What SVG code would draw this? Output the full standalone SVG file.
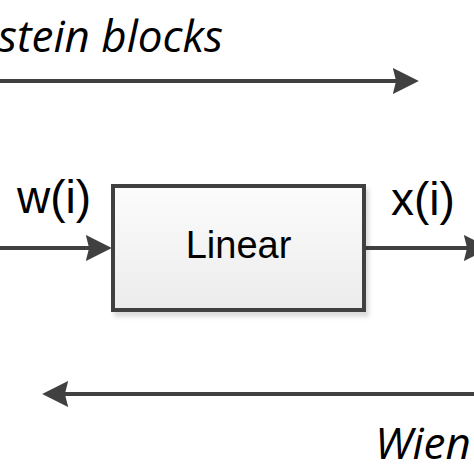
<svg xmlns="http://www.w3.org/2000/svg" width="474" height="474" viewBox="0 0 474 474">
  <style>
    .conn { stroke: #404040; stroke-width: 4; fill: none; marker-end: url(#ah); }
    .sig { font-family: "Liberation Sans", Arial, sans-serif; font-size: 46px; fill: #000; }
    .title { font-family: "Open Sans", "Noto Sans", sans-serif; font-style: italic; font-size: 44px; fill: #000; }
    .box { fill: url(#boxfill); stroke: #404040; stroke-width: 4; filter: url(#shadow); }
    .boxlabel { font-family: "Liberation Sans", Arial, sans-serif; font-size: 38px; fill: #000; text-anchor: middle; }
  </style>
  <defs>
    <linearGradient id="boxfill" x1="0" y1="0" x2="0" y2="1">
      <stop offset="0" stop-color="#fcfcfc"/>
      <stop offset="1" stop-color="#ececec"/>
    </linearGradient>
    <filter id="shadow" x="-10%" y="-10%" width="130%" height="140%">
      <feDropShadow dx="3" dy="5" stdDeviation="2" flood-color="#000" flood-opacity="0.14"/>
    </filter>
    <marker id="ah" markerUnits="userSpaceOnUse" markerWidth="26" markerHeight="26" viewBox="0 0 24 24" refX="14" refY="12" orient="auto">
      <path d="M0,0 L24,12 L0,24 L3,12 z" fill="#404040"/>
    </marker>
  </defs>
  <rect width="474" height="474" fill="#fff"/>

  <g id="connectors">
    <path class="conn" d="M-5,81 L408,81"/>
    <path class="conn" d="M-5,248 L101,248"/>
    <path class="conn" d="M366,248 L479,248"/>
    <path class="conn" d="M480,394 L53,394"/>
  </g>

  <g id="linear">
    <rect class="box" x="113" y="186" width="251" height="124"/>
    <text class="boxlabel" x="238.5" y="258">Linear</text>
  </g>

  <g id="labels">
    <text class="title" x="-2" y="52">stein blocks</text>
    <text class="title" x="375" y="459">Wien</text>
    <text class="sig" x="17" y="213">w(i)</text>
    <text class="sig" x="391" y="215">x(i)</text>
  </g>
</svg>
